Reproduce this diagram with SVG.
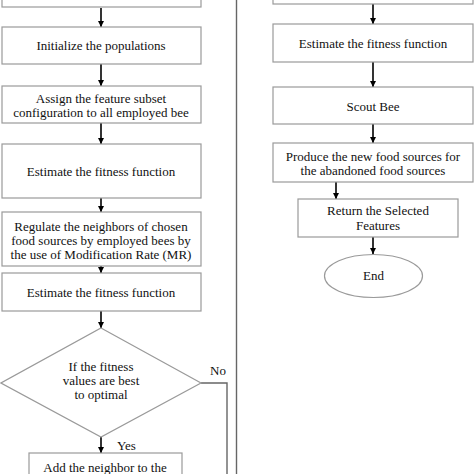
<svg xmlns="http://www.w3.org/2000/svg" width="474" height="474" viewBox="0 0 474 474">
<defs>
<marker id="ah" viewBox="0 0 10 10" refX="10" refY="5" markerWidth="6" markerHeight="6" orient="auto" markerUnits="userSpaceOnUse">
<path d="M0,0 L10,5 L0,10 Z" fill="#000"/>
</marker>
<style>
.box{fill:#fff;stroke:#9a9a9a;stroke-width:1.2}
.t{font-family:"Liberation Serif","Times New Roman",serif;font-size:13px;fill:#111;text-anchor:middle}
.lbl{font-family:"Liberation Serif","Times New Roman",serif;font-size:13px;fill:#111}
.arr{stroke:#000;stroke-width:1.6;fill:none;marker-end:url(#ah)}
.ln{stroke:#666;stroke-width:1.4;fill:none}
</style>
</defs>
<rect width="474" height="474" fill="#fff"/>
<g id="connectors">
<path class="arr" d="M101,8 V27"/>
<path class="arr" d="M101,64 V86"/>
<path class="arr" d="M101,123 V144"/>
<path class="arr" d="M101,198 V212"/>
<path class="arr" d="M101,266 V273"/>
<path class="arr" d="M101,311 V328"/>
<path class="arr" d="M101,437 V453"/>
<path class="ln" d="M201,383 H227 V474"/>
<path class="ln" d="M236.5,0 V474"/>
<path class="arr" d="M373,4 V24"/>
<path class="arr" d="M373,62 V87"/>
<path class="arr" d="M373,124 V143"/>
<path class="arr" d="M336,182 V199"/>
<path class="arr" d="M373,237 V254"/>
<text class="lbl" x="210" y="375">No</text>
<text class="lbl" x="117" y="450">Yes</text>
</g>
<g id="n-top-left"><rect class="box" x="2" y="-20" width="199" height="27"/></g>
<g id="n-init"><rect class="box" x="2" y="27" width="199" height="37"/><text class="t" x="101" y="50">Initialize the populations</text></g>
<g id="n-assign"><rect class="box" x="2" y="86" width="199" height="37"/><text class="t" x="101" y="103">Assign the feature subset</text><text class="t" x="101" y="117">configuration to all employed bee</text></g>
<g id="n-est1"><rect class="box" x="2" y="144" width="199" height="54"/><text class="t" x="101" y="176">Estimate the fitness function</text></g>
<g id="n-regulate"><rect class="box" x="2" y="212" width="199" height="54"/><text class="t" x="101" y="231">Regulate the neighbors of chosen</text><text class="t" x="101" y="245">food sources by employed bees by</text><text class="t" x="101" y="259">the use of Modification Rate (MR)</text></g>
<g id="n-est2"><rect class="box" x="2" y="273" width="199" height="38"/><text class="t" x="101" y="297">Estimate the fitness function</text></g>
<g id="n-decision"><polygon class="box" points="101,328 201,383 101,437 1,383"/><text class="t" x="101" y="371">If the fitness</text><text class="t" x="101" y="385">values are best</text><text class="t" x="101" y="399">to optimal</text></g>
<g id="n-add"><rect class="box" x="29" y="453" width="153" height="40"/><text class="t" x="105" y="472">Add the neighbor to the</text></g>
<g id="n-top-right"><rect class="box" x="273" y="-20" width="200" height="24"/></g>
<g id="n-est3"><rect class="box" x="273" y="24" width="200" height="38"/><text class="t" x="373" y="48">Estimate the fitness function</text></g>
<g id="n-scout"><rect class="box" x="273" y="87" width="200" height="37"/><text class="t" x="373" y="111">Scout Bee</text></g>
<g id="n-produce"><rect class="box" x="273" y="143" width="200" height="39"/><text class="t" x="373" y="161">Produce the new food sources for</text><text class="t" x="373" y="175">the abandoned food sources</text></g>
<g id="n-return"><rect class="box" x="298" y="199" width="160" height="38"/><text class="t" x="378" y="215">Return the Selected</text><text class="t" x="378" y="230">Features</text></g>
<g id="n-end"><ellipse class="box" cx="373.5" cy="276" rx="49" ry="21.5"/><text class="t" x="373.5" y="280">End</text></g>
</svg>
